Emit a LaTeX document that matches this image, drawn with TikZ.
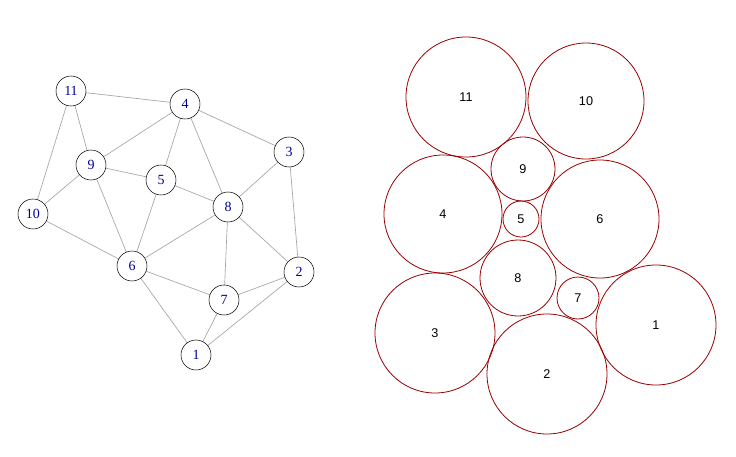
\documentclass[tikz,border=0pt]{standalone}
\usepackage{fontspec}
\setmainfont{Liberation Serif}
\newfontfamily\arialf{Liberation Sans}
\begin{document}
\begin{tikzpicture}[x=0.75pt,y=-0.75pt,
  gnode/.style={circle,draw=black,fill=white,minimum size=22.5pt,inner sep=0pt,text=blue!60!black,font=\fontsize{10.5}{12}\selectfont},
  gedge/.style={draw=gray!70,line width=0.5pt},
  pcirc/.style={draw=red!60!black,line width=0.6pt},
  plab/.style={font=\arialf\fontsize{9.5}{11}\selectfont,text=black}]
\useasboundingbox[fill=white] (0,0) rectangle (736,457);
\foreach \n/\x/\y in {11/71/91,4/185/104,3/289/152,9/91/165,5/161/180,8/228/207,10/33/214,6/132/266,2/299/272,7/224/300,1/196/355}
  \coordinate (c\n) at (\x,\y);
\foreach \a/\b in {11/4,11/9,11/10,4/9,4/5,4/8,4/3,9/5,9/10,9/6,5/8,5/6,3/8,3/2,8/6,8/7,8/2,10/6,6/7,6/1,7/2,7/1,1/2}
  \draw[gedge] (c\a) -- (c\b);
\foreach \n in {11,4,3,9,5,8,10,6,2,7,1}
  \node[gnode] (n\n) at (c\n) {\n};
\foreach \n/\x/\y/\r in {11/466/97/60,10/586/101/58,9/523/169/32,4/443/214/59,5/521/219/18,6/600/219/59,8/518/278/38,7/578/298/21,1/656/325/60,3/435/333/60,2/547/374/60}{
  \draw[pcirc] (\x,\y) circle[radius=\r*0.75pt];
  \node[plab] (p\n) at (\x,\y) {\n};
}
\end{tikzpicture}
\end{document}
